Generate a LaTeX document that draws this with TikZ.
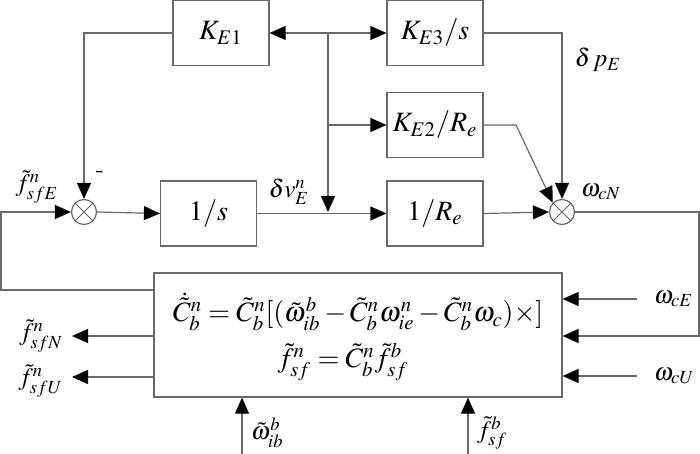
\documentclass[tikz,border=0pt]{standalone}
\usepackage{amsmath}
\usepackage{mathptmx}
\usepackage{tikz}
\usetikzlibrary{positioning, arrows.meta}
\definecolor{linegray}{RGB}{105,105,105}

\begin{document}
\begin{tikzpicture}[x=0.5pt, y=-0.5pt, font=\fontsize{12.5}{14}\selectfont,
    block/.style={draw=linegray, line width=0.6pt, minimum width=48pt, minimum height=32.5pt, inner sep=0pt},
    bigfont/.style={font=\fontsize{14}{16}\selectfont},
    sum/.style={circle, draw=linegray, line width=0.6pt, minimum size=12.5pt, inner sep=0pt,
        path picture={\draw [linegray, line width=0.5pt]
            (path picture bounding box.north west) -- (path picture bounding box.south east)
            (path picture bounding box.north east) -- (path picture bounding box.south west);}},
    sig/.style={draw=linegray, line width=0.6pt, -{Triangle[length=8pt, width=7pt, color=black]}}]
    \useasboundingbox (0,0) rectangle (700,454);

    % blocks of the loop
    \node [block, bigfont] (ke1) at (221,33) {$K_{E1}$};
    \node [block, bigfont] (ke3) at (435,33) {$K_{E3}/s$};
    \node [block, bigfont] (ke2) at (435,125) {$K_{E2}/R_e$};
    \node [block, bigfont] (integ) at (208.5,213.5) {$1/s$};
    \node [block, bigfont] (re) at (435,213.5) {$1/R_e$};
    \node [sum] (sum1) at (84,212) {};
    \node [sum] (sum2) at (562,212) {};

    % attitude block
    \node [block, minimum width=204pt, minimum height=62pt] (big) at (358,335) {};
    \node [bigfont] (eq1) at (358,312) {$\dot{\tilde{C}}_b^n = \tilde{C}_b^n[(\tilde{\omega}_{ib}^b - \tilde{C}_b^n\omega_{ie}^n - \tilde{C}_b^n\omega_c)\times]$};
    \node [bigfont] (eq2) at (343,362) {$\tilde{f}_{sf}^n = \tilde{C}_b^n\tilde{f}_{sf}^b$};

    % branch points
    \coordinate (br1) at (328,33);
    \coordinate (br2) at (328,125);
    \coordinate (br3) at (328,212);
    \coordinate (k2b) at (516,125);
    \coordinate (fbl) at (1,290);
    \coordinate (fbr) at (699,336);

    \draw [sig] (ke1.west) -| (sum1.north);
    \draw [sig] (br1) -- (ke1.east);
    \draw [sig] (br1) -- (ke3.west);
    \draw [sig] (br1) -- (br3);
    \draw [sig] (br2) -- (ke2.west);
    \draw [sig] (sum1.east) -- (integ.west);
    \draw [sig] (integ.east) -- (re.west);
    \draw [sig] (re.east) -- (sum2.west);
    \draw [sig] (ke3.east) -| (sum2.north);
    \draw [sig] (ke2.east) -- (k2b) -- (sum2.135);
    \draw [sig] (big.west |- fbl) -- (fbl) |- (sum1.west);
    \draw [sig] (sum2.east) -| (fbr) -- (big.east |- fbr);

    % inputs and outputs
    \coordinate (wce) at (637,299);
    \coordinate (wcu) at (637,376);
    \coordinate (fsfn) at (72,336);
    \coordinate (fsfu) at (72,377);
    \coordinate (wib) at (242,454);
    \coordinate (fb) at (468,454);
    \draw [sig] (wce) -- (big.east |- wce);
    \draw [sig] (wcu) -- (big.east |- wcu);
    \draw [sig] (big.west |- fsfn) -- (fsfn);
    \draw [sig] (big.west |- fsfu) -- (fsfu);
    \draw [sig] (wib) -- (wib |- big.south);
    \draw [sig] (fb) -- (fb |- big.south);

    % labels
    \node at (37,187) {$\tilde{f}_{sfE}^n$};
    \node at (100,174) {-};
    \node at (289,192) {$\delta v_E^n$};
    \node at (598,60) {$\delta\, p_E$};
    \node at (601,192) {$\omega_{cN}$};
    \node [right=5pt of wce] {$\omega_{cE}$};
    \node [right=5pt of wcu] {$\omega_{cU}$};
    \node [left=1pt of fsfn] {$\tilde{f}_{sfN}^n$};
    \node [left=1pt of fsfu, yshift=-2pt] {$\tilde{f}_{sfU}^n$};
    \node [anchor=west] at (244,433) {$\tilde{\omega}_{ib}^b$};
    \node [anchor=west] at (470,433) {$\tilde{f}_{sf}^b$};
\end{tikzpicture}
\end{document}
